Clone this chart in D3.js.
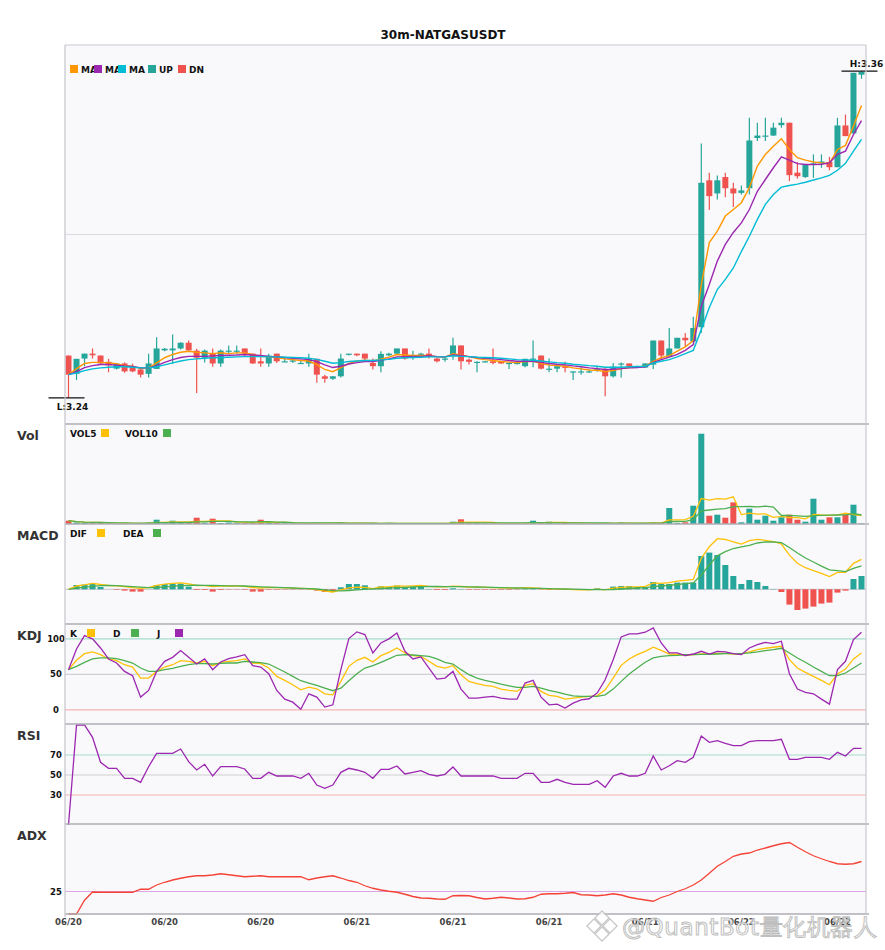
<!DOCTYPE html>
<html><head><meta charset="utf-8">
<script src="https://cdn.jsdelivr.net/npm/d3@7"></script>
<style>
body{margin:0;background:#fff}
svg{display:block}
text{font-family:"DejaVu Sans",sans-serif}
</style>
</head><body>
<svg id="chart" width="885" height="950"></svg>
<script>
// ---------------- DATA ----------------
const title = "30m-NATGASUSDT";
const openP = [3.2555,3.2488,3.2544,3.2562,3.2555,3.2532,3.2507,3.2526,3.2510,3.2504,
3.2488,3.2506,3.2574,3.2574,3.2581,3.2602,3.2573,3.2547,3.2562,3.2526,
3.2569,3.2570,3.2581,3.2562,3.2534,3.2526,3.2562,3.2532,3.2533,3.2525,
3.2526,3.2543,3.2479,3.2470,3.2479,3.2559,3.2562,3.2562,3.2528,3.2516,
3.2556,3.2562,3.2581,3.2550,3.2559,3.2562,3.2544,3.2540,3.2559,3.2592,
3.2540,3.2528,3.2530,3.2534,3.2532,3.2525,3.2525,3.2516,3.2540,3.2555,
3.2504,3.2507,3.2516,3.2495,3.2495,3.2495,3.2500,3.2504,3.2479,3.2523,
3.2526,3.2512,3.2511,3.2522,3.2610,3.2552,3.2581,3.2620,3.2607,3.2659,
3.3197,3.3149,3.3209,3.3167,3.3151,3.3168,3.3352,3.3359,3.3361,3.3399,
3.3408,3.3225,3.3209,3.3254,3.3259,3.3264,3.3245,3.3398,3.3369,3.3584];
const highP = [3.2555,3.2543,3.2562,3.2581,3.2555,3.2543,3.2528,3.2530,3.2525,3.2510,
3.2562,3.2622,3.2583,3.2632,3.2604,3.2610,3.2580,3.2577,3.2581,3.2577,
3.2592,3.2592,3.2581,3.2562,3.2581,3.2562,3.2562,3.2547,3.2543,3.2540,
3.2562,3.2543,3.2485,3.2479,3.2562,3.2562,3.2562,3.2562,3.2544,3.2571,
3.2565,3.2581,3.2581,3.2573,3.2565,3.2581,3.2547,3.2549,3.2620,3.2592,
3.2544,3.2534,3.2534,3.2581,3.2532,3.2530,3.2530,3.2543,3.2610,3.2555,
3.2544,3.2516,3.2532,3.2497,3.2512,3.2504,3.2515,3.2510,3.2528,3.2530,
3.2526,3.2518,3.2527,3.2610,3.2610,3.2656,3.2620,3.2638,3.2697,3.3332,
3.3225,3.3215,3.3225,3.3188,3.3178,3.3426,3.3408,3.3426,3.3408,3.3426,
3.3408,3.3264,3.3255,3.3292,3.3292,3.3283,3.3426,3.3438,3.3591,3.3597];
const lowP = [3.2400,3.2465,3.2516,3.2544,3.2522,3.2494,3.2504,3.2492,3.2494,3.2475,
3.2475,3.2506,3.2571,3.2525,3.2577,3.2571,3.2418,3.2530,3.2514,3.2514,
3.2562,3.2562,3.2552,3.2525,3.2514,3.2514,3.2528,3.2532,3.2528,3.2525,
3.2514,3.2455,3.2455,3.2465,3.2475,3.2555,3.2552,3.2532,3.2504,3.2494,
3.2552,3.2559,3.2540,3.2540,3.2555,3.2544,3.2530,3.2532,3.2540,3.2504,
3.2522,3.2494,3.2530,3.2522,3.2525,3.2506,3.2522,3.2512,3.2512,3.2504,
3.2494,3.2494,3.2494,3.2465,3.2485,3.2492,3.2496,3.2406,3.2475,3.2475,
3.2515,3.2511,3.2509,3.2506,3.2540,3.2551,3.2581,3.2589,3.2602,3.2638,
3.3088,3.3127,3.3135,3.3099,3.3145,3.3145,3.3341,3.3341,3.3359,3.3390,
3.3194,3.3203,3.3206,3.3206,3.3243,3.3234,3.3245,3.3359,3.3369,3.3569];
const closeP = [3.2485,3.2543,3.2562,3.2556,3.2526,3.2519,3.2525,3.2497,3.2497,3.2485,
3.2526,3.2581,3.2580,3.2581,3.2602,3.2574,3.2547,3.2573,3.2526,3.2573,
3.2573,3.2573,3.2562,3.2526,3.2526,3.2555,3.2534,3.2534,3.2537,3.2528,
3.2543,3.2485,3.2470,3.2479,3.2544,3.2562,3.2556,3.2544,3.2516,3.2561,
3.2562,3.2581,3.2544,3.2552,3.2562,3.2550,3.2534,3.2544,3.2592,3.2534,
3.2532,3.2532,3.2534,3.2528,3.2526,3.2528,3.2528,3.2543,3.2544,3.2507,
3.2507,3.2516,3.2510,3.2497,3.2497,3.2497,3.2505,3.2479,3.2514,3.2526,
3.2516,3.2515,3.2526,3.2610,3.2555,3.2581,3.2620,3.2611,3.2656,3.3188,
3.3139,3.3197,3.3168,3.3149,3.3160,3.3343,3.3361,3.3361,3.3390,3.3408,
3.3216,3.3212,3.3255,3.3259,3.3266,3.3245,3.3398,3.3359,3.3591,3.3594];
const maFast = [3.2485,3.2507,3.2526,3.2530,3.2530,3.2528,3.2525,3.2518,3.2516,3.2507,
3.2510,3.2528,3.2547,3.2559,3.2567,3.2571,3.2567,3.2565,3.2562,3.2565,
3.2562,3.2565,3.2565,3.2559,3.2552,3.2550,3.2548,3.2543,3.2540,3.2537,
3.2535,3.2522,3.2504,3.2496,3.2511,3.2526,3.2535,3.2538,3.2535,3.2542,
3.2549,3.2559,3.2557,3.2555,3.2555,3.2555,3.2551,3.2549,3.2562,3.2557,
3.2551,3.2544,3.2540,3.2537,3.2533,3.2531,3.2529,3.2533,3.2534,3.2526,
3.2520,3.2518,3.2516,3.2510,3.2506,3.2502,3.2501,3.2496,3.2500,3.2507,
3.2511,3.2512,3.2516,3.2534,3.2547,3.2555,3.2571,3.2587,3.2610,3.2815,
3.2969,3.3011,3.3066,3.3090,3.3115,3.3170,3.3249,3.3292,3.3322,3.3349,
3.3310,3.3280,3.3271,3.3264,3.3261,3.3259,3.3310,3.3325,3.3396,3.3471];
const maMid = [3.2485,3.2496,3.2511,3.2518,3.2522,3.2522,3.2520,3.2517,3.2515,3.2510,
3.2510,3.2518,3.2530,3.2540,3.2548,3.2552,3.2552,3.2552,3.2554,3.2555,
3.2556,3.2557,3.2559,3.2557,3.2555,3.2552,3.2550,3.2548,3.2545,3.2543,
3.2540,3.2533,3.2521,3.2511,3.2516,3.2524,3.2529,3.2533,3.2533,3.2538,
3.2543,3.2550,3.2551,3.2552,3.2552,3.2554,3.2551,3.2550,3.2557,3.2555,
3.2551,3.2548,3.2545,3.2543,3.2540,3.2537,3.2534,3.2534,3.2534,3.2530,
3.2526,3.2523,3.2521,3.2517,3.2514,3.2510,3.2507,3.2504,3.2505,3.2507,
3.2510,3.2511,3.2514,3.2530,3.2540,3.2549,3.2559,3.2574,3.2595,3.2736,
3.2815,3.2901,3.2962,3.3006,3.3041,3.3090,3.3157,3.3200,3.3243,3.3283,
3.3271,3.3258,3.3255,3.3255,3.3256,3.3261,3.3292,3.3304,3.3365,3.3416];
const maSlow = [3.2485,3.2491,3.2500,3.2506,3.2510,3.2512,3.2514,3.2514,3.2512,3.2510,
3.2510,3.2514,3.2521,3.2528,3.2535,3.2540,3.2543,3.2545,3.2547,3.2548,
3.2549,3.2550,3.2551,3.2551,3.2551,3.2550,3.2550,3.2549,3.2548,3.2547,
3.2545,3.2541,3.2534,3.2527,3.2529,3.2533,3.2535,3.2537,3.2537,3.2539,
3.2541,3.2545,3.2547,3.2548,3.2549,3.2550,3.2550,3.2550,3.2554,3.2552,
3.2551,3.2549,3.2548,3.2547,3.2545,3.2543,3.2540,3.2539,3.2538,3.2535,
3.2532,3.2529,3.2527,3.2523,3.2521,3.2518,3.2516,3.2512,3.2512,3.2512,
3.2514,3.2515,3.2516,3.2528,3.2534,3.2540,3.2550,3.2562,3.2574,3.2650,
3.2731,3.2797,3.2834,3.2876,3.2936,3.2992,3.3054,3.3109,3.3145,3.3172,
3.3178,3.3183,3.3190,3.3198,3.3206,3.3215,3.3234,3.3259,3.3304,3.3347];
const volume = [330,150,100,80,100,60,60,80,60,60,
150,430,80,330,100,100,630,120,530,100,
150,80,80,100,430,100,80,50,50,50,
80,120,80,60,150,60,60,70,60,80,
60,60,70,50,50,60,60,80,230,470,
80,80,60,70,60,60,50,60,330,100,
230,60,100,60,60,60,60,80,60,150,
60,60,80,150,150,1600,100,170,1830,9030,
830,930,630,2160,170,1530,430,830,330,670,
930,430,230,2530,430,670,670,930,1930,50];
const vol5 = [330,240,190,165,150,100,80,75,70,65,
80,170,160,210,220,210,250,260,300,300,
310,200,190,110,170,160,160,150,140,70,
60,70,75,80,100,95,90,80,80,65,
65,65,65,60,60,60,60,60,100,180,
185,190,185,150,70,65,60,60,110,120,
155,155,165,110,100,70,60,65,65,80,
80,80,80,100,100,410,410,440,770,2550,
2390,2540,2490,2720,940,1080,990,1020,660,760,
640,640,520,960,900,860,910,1090,930,850];
const vol10 = [330,240,190,165,150,130,115,105,95,90,
90,125,125,150,150,150,205,210,260,260,
260,225,220,200,235,225,180,175,125,120,
115,120,120,110,105,80,80,80,75,70,
75,60,60,60,60,60,60,60,80,120,
120,120,120,120,120,120,120,120,145,140,
110,110,115,110,110,105,100,100,80,90,
90,75,75,80,90,245,250,260,430,1320,
1400,1480,1540,1740,1740,1750,1720,1780,1690,850,
860,810,770,840,870,880,900,910,1040,900];
// MACD values in units of 0.0002
const dif = [0,3.3,4.5,6,4.8,3.8,3.4,2.6,1.6,1.0,
1.6,4.0,5.1,5.9,6.5,5.4,3.8,3.7,2.7,3.3,
3.4,3.3,3.0,1.8,1.3,2.0,1.7,1.5,1.2,0.9,
0.6,-0.3,-1.9,-2.7,-0.6,1.5,2.1,2.0,0.7,2.3,
2.4,3.5,3.2,3.5,3.8,2.9,2.5,2.4,3.1,2.8,
2.3,2.1,1.9,1.7,1.5,1.3,1.2,1.6,1.5,0.8,
0.4,0.4,0.1,-0.3,-0.5,-0.6,0.1,-0.6,1.2,2.0,
2.5,2.5,2.9,6.3,6.0,6.7,8.2,9.0,9.8,31,
42.6,50.6,49.8,47.5,45.2,48.7,50,49,47.7,45.3,
34.2,26,21.6,18.6,16,12.8,17,17,26,30];
const dea = [0,1.2,2.2,3,3.6,3.8,3.6,3.2,2.7,2.1,
1.6,1.8,2.4,3.0,3.6,4.0,4.1,4.0,3.8,3.6,
3.5,3.4,3.3,2.9,2.5,2.2,1.9,1.6,1.3,1.0,
0.7,0.3,-0.5,-1.3,-1.6,-1.2,-0.6,0,0.4,0.8,
1.2,1.6,2.0,2.3,2.6,2.8,2.8,2.7,2.6,2.6,
2.5,2.3,2.1,1.9,1.7,1.5,1.3,1.1,1.0,0.9,
0.7,0.5,0.3,0.1,-0.1,-0.3,-0.4,-0.4,-0.2,0.3,
0.8,1.3,1.7,2.6,3.3,4.0,4.8,5.6,6.4,14.3,
24.3,33.5,37.7,40.8,42.5,44,46.3,47.3,47.5,46.7,
41.8,36.3,31.3,27.3,23.2,19.4,18.6,17.7,20.9,23.4];
const macdHist = [0,4.3,4.7,6,2.3,0,-0.5,-1.3,-2.3,-2.3,
0,4.3,5.3,5.7,5.7,2.7,-0.7,-0.7,-2.3,-0.7,
-0.3,-0.3,-0.5,-2.3,-2.3,-0.5,-0.5,-0.3,-0.3,-0.3,
-0.3,-1.3,-2.7,-2.7,2,5.3,5.3,4,0.5,3,
2.3,3.7,2.3,2.3,2.3,0.3,-0.7,-0.7,1,0.3,
-0.5,-0.5,-0.5,-0.5,-0.5,-0.5,-0.3,1,1,-0.3,
-0.7,-0.3,-0.5,-0.7,-0.7,-0.5,1,-0.3,2.7,3.3,
3.3,2.3,2.3,7.3,5.3,5.3,6.7,6.7,6.7,33.3,
36.7,34.3,24.3,13.3,5.3,9.3,7.3,3.3,0.3,-2.7,
-15.3,-20.7,-19.3,-17.3,-14.3,-13.3,-3.3,-1.3,10.3,13.3];
const kVal = [56.6,69.8,79.2,81.6,77.8,71.7,69.3,63.6,60.3,44.8,
44.8,54.2,60.3,63.6,69.3,68.4,66,68.4,62.2,67,
68.4,69.3,71.7,66,65,58.9,47.1,41.5,35.4,28.3,
32.1,29.7,22.6,21.2,40.1,61.3,69.8,74,67.4,76.4,
81.1,87.2,80.2,76.4,75.4,68.4,61.3,58.9,62.2,49.5,
40.1,36.8,34.4,33,29.2,27.3,25.9,34.4,36.8,25.9,
20.3,18.9,15.1,16.5,17.9,18.9,19.8,28.3,44.8,62.7,
71.7,77.8,82.5,88.2,83.9,78.7,78.3,76.4,77.8,78.7,
78.7,79.7,79.7,78.7,78.7,81.6,84.9,86.8,88.2,89.6,
70.7,58.9,52.8,47.1,41.5,35.4,50.4,57.5,71.7,80.2];
const dVal = [56.6,61.3,67,71.7,73.1,73.1,72.1,69.3,66,58.9,
54.2,54.2,56.6,58.5,61.3,63.6,65,65,64.6,65.5,
66,66,68.4,67.4,66.5,64.6,58.9,53.3,47.1,41,
37.7,34.4,30.6,26.9,30.6,41,50.9,58.9,62.2,67,
71.7,76.9,77.8,77.3,76.4,75.4,71.7,66.9,64.6,56.6,
49.5,44.8,41.5,39.1,36.3,33.9,31.6,31.6,33,30.6,
27.3,25,22.2,19.8,18.9,18.9,18.9,21.2,29.2,40.1,
50.4,58.9,67,73.1,75.4,76.4,76.9,77.8,77.8,78.3,
78.3,78.7,79.2,79.2,79.2,80.2,81.6,83.5,84.9,86.8,
80.2,73.1,67,60.3,54.2,48.1,48.1,51.9,58.9,66];
const jVal = [56.6,85.8,104.7,100,87.2,71.7,66,54.2,48.1,17.9,
27.3,54.2,68.4,74,83.5,74,64.6,71.7,56.6,67.4,
72.1,74.5,77.8,62.2,60.3,50.9,27.3,15.1,10.8,0.9,
22.6,17.9,3.8,7.1,56.6,100.4,109.9,106.1,80.2,94.3,
100,108.4,82.5,71.7,74.5,58.9,43.4,44.8,54.2,29.2,
16.5,16.5,17.9,18.9,16.5,15.1,15.1,37.7,41.5,17.9,
7.1,8,2.4,9.4,14.1,15.6,23.6,42.4,70.7,102.8,
107,107,109.4,115.5,94.3,80.2,80.2,76.4,78.7,82.5,
78.7,82.5,81.6,79.2,77.8,87.2,91.9,95.2,93.4,96.7,
50.9,29.2,24.5,22.6,15.1,8,56.6,68.4,99,109.4];
const rsi = [0,100,100,87.7,62.7,56.7,56.7,46.7,46.7,42.7,
58.3,71.7,71.7,71.7,76,63.3,55,60.7,49,58.3,
58.3,58.3,56,46.7,46.7,52.7,49,49,49,46.7,
51.7,40,36.7,40,52.7,56.7,55,52.7,46.7,55.7,
55.7,59,51,52.7,54.3,50.7,49,50.7,58,49,
49,49,49,49,46.7,46.7,46.7,51.7,51.7,42.7,
42.7,45.7,42.7,40.7,40.7,40.7,44.3,37.7,49,51.7,
49,49,51.7,69,55,59.3,64.3,62.7,67.7,89,
82.7,84.3,81.7,79.3,79.3,83.3,84.3,84.3,84.3,85.7,
65.7,65.7,67.7,67.7,67.7,65.7,72.7,69,76.7,76.7];
const adx = [16,16,21.5,24.8,24.7,24.7,24.7,24.7,24.7,25.9,
25.9,27.6,28.7,29.6,30.3,30.9,31.3,31.3,31.6,32.1,
31.7,31.3,30.9,31.1,31.3,30.9,30.9,30.9,30.9,30.9,
29.7,30.4,30.9,31.3,30.4,29.4,28.7,27.3,26.3,25.6,
25.1,24.7,23.9,23,22.4,22.3,22,21.9,23.3,23.4,
23.3,22.6,22,22.3,22.7,22.4,22,22.1,22.7,23.9,
24.1,24.1,24.3,24.6,23.7,23.6,23.3,23.6,24.1,23.6,
22.7,22.1,21.6,21.1,22.6,23.6,25,26.1,27.6,29.6,
32.3,35.1,37,39.1,40,40.4,41.6,42.4,43.3,44.1,
44.6,42.7,40.9,39.3,38.1,37,36.1,35.9,36.1,37];
const tickIdx = [0,12,24,36,48,60,72,84,96];
const tickLabels = ["06/20","06/20","06/20","06/21","06/21","06/21","06/21","06/22","06/22"];
const maLegend = ["MA","MA","MA","UP","DN"];
const kdjLevels = [100,50,0], rsiLevels = [70,50,30], adxLevels = [25];

// ---------------- DRAWING ----------------
const UP="#26a69a", DN="#ef5350";
const C_MA=["#ff9800","#9c27b0","#00bcd4"], YEL="#ffc107", GRN="#4caf50", PUR="#9c27b0";
const svg=d3.select("#chart");
const L=65, R=866, N=closeP.length;
const P={main:[45,424],vol:[424,524],macd:[524,624],kdj:[624,724],rsi:[724,824],adx:[824,914]};
const x=d3.scaleBand().domain(d3.range(N)).range([64.5,865.5]);
const cx=i=>x(i)+x.bandwidth()/2;
const bw=6;

svg.append("rect").attr("x",L).attr("y",P.main[0]).attr("width",R-L).attr("height",P.adx[1]-P.main[0]).attr("fill","#f9f9fb");

svg.append("text").attr("x",443).attr("y",39).attr("text-anchor","middle")
  .attr("font-size",12).attr("font-weight","bold").attr("fill","#111").text(title);

// main scale
const lo=d3.min(lowP), hi=d3.max(highP), rg=hi-lo;
const yM=d3.scaleLinear().domain([lo-rg*0.08,hi+rg*0.08]).range([P.main[1],P.main[0]]);
svg.append("line").attr("x1",L).attr("x2",R).attr("y1",(P.main[0]+P.main[1])/2).attr("y2",(P.main[0]+P.main[1])/2)
  .attr("stroke","#dcdce0").attr("stroke-width",1);

const gC=svg.append("g");
d3.range(N).forEach(i=>{
  const up=closeP[i]>=openP[i], col=up?UP:DN;
  gC.append("line").attr("x1",cx(i)).attr("x2",cx(i)).attr("y1",yM(highP[i])).attr("y2",yM(lowP[i]))
    .attr("stroke",col).attr("stroke-width",1.2);
  const t=yM(Math.max(openP[i],closeP[i])), b=yM(Math.min(openP[i],closeP[i]));
  gC.append("rect").attr("x",cx(i)-bw/2).attr("width",bw).attr("y",t).attr("height",Math.max(1.2,b-t)).attr("fill",col);
});
[maFast,maMid,maSlow].forEach((s,k)=>{
  svg.append("path").datum(s).attr("fill","none").attr("stroke",C_MA[k]).attr("stroke-width",1.4)
    .attr("d",d3.line().x((d,i)=>cx(i)).y(d=>yM(d)));
});
// H / L markers
const iH=d3.maxIndex(highP), iL=d3.minIndex(lowP);
svg.append("line").attr("x1",cx(iH)-20).attr("x2",cx(iH)+16).attr("y1",yM(hi)).attr("y2",yM(hi)).attr("stroke","#111").attr("stroke-width",1.2);
svg.append("text").attr("x",cx(iH)+5).attr("y",yM(hi)-4).attr("text-anchor","middle").attr("font-size",9).attr("font-weight","bold").attr("fill","#111").text("H:"+hi.toFixed(2));
svg.append("line").attr("x1",cx(iL)-20).attr("x2",cx(iL)+16).attr("y1",yM(lo)).attr("y2",yM(lo)).attr("stroke","#111").attr("stroke-width",1.2);
svg.append("text").attr("x",cx(iL)+4).attr("y",yM(lo)+12).attr("text-anchor","middle").attr("font-size",9).attr("font-weight","bold").attr("fill","#111").text("L:"+lo.toFixed(2));

// main legend
const legX=[70,94,118,148,178], legC=[C_MA[0],C_MA[1],C_MA[2],UP,DN];
maLegend.forEach((t,k)=>{
  svg.append("text").attr("x",legX[k]+11).attr("y",73).attr("font-size",9).attr("font-weight","bold").attr("fill","#111").text(t);
});
maLegend.forEach((t,k)=>{
  svg.append("rect").attr("x",legX[k]).attr("y",65).attr("width",8).attr("height",8).attr("fill",legC[k]);
});

function legend(items, y){
  items.forEach(([t,tx,sx,col])=>{
    svg.append("text").attr("x",tx).attr("y",y).attr("font-size",9).attr("font-weight","bold").attr("fill","#111").text(t);
    svg.append("rect").attr("x",sx).attr("y",y-8).attr("width",8).attr("height",8).attr("fill",col);
  });
}
function panelLabel(t,y){
  svg.append("text").attr("x",17).attr("y",y).attr("font-size",12.5).attr("font-weight","bold").attr("fill","#333").text(t);
}
function level(y,v,col,lab){
  svg.append("line").attr("x1",L).attr("x2",R).attr("y1",y(v)).attr("y2",y(v)).attr("stroke",col).attr("stroke-width",1.2);
  if(lab) svg.append("text").attr("x",56).attr("y",y(v)+3).attr("text-anchor","middle").attr("font-size",8.5).attr("font-weight","bold").attr("fill","#111").text(v);
}
const lineGen=y=>d3.line().defined(d=>d!=null).x((d,i)=>cx(i)).y(d=>y(d));

// Volume
const yV=d3.scaleLinear().domain([0,10000]).range([P.vol[1],P.vol[0]]);
d3.range(N).forEach(i=>{
  const col=closeP[i]>=openP[i]?UP:DN;
  svg.append("rect").attr("x",cx(i)-bw/2).attr("width",bw).attr("y",yV(volume[i])).attr("height",yV(0)-yV(volume[i])).attr("fill",col);
});
svg.append("path").datum(vol5).attr("fill","none").attr("stroke",YEL).attr("stroke-width",1.3).attr("d",lineGen(yV));
svg.append("path").datum(vol10).attr("fill","none").attr("stroke",GRN).attr("stroke-width",1.3).attr("d",lineGen(yV));
panelLabel("Vol",440);
legend([["VOL5",70,101,YEL],["VOL10",125,163,GRN]],437);

// MACD
const yMD=d3.scaleLinear().domain([-34.7,65.3]).range([P.macd[1],P.macd[0]]);
svg.append("line").attr("x1",L).attr("x2",R).attr("y1",yMD(0)).attr("y2",yMD(0)).attr("stroke","#d0d0d4").attr("stroke-width",1.2);
d3.range(N).forEach(i=>{
  const v=macdHist[i], col=v>=0?UP:DN;
  svg.append("rect").attr("x",cx(i)-bw/2).attr("width",bw).attr("y",yMD(Math.max(0,v))).attr("height",Math.abs(yMD(v)-yMD(0))).attr("fill",col);
});
svg.append("path").datum(dif).attr("fill","none").attr("stroke",YEL).attr("stroke-width",1.3).attr("d",lineGen(yMD));
svg.append("path").datum(dea).attr("fill","none").attr("stroke",GRN).attr("stroke-width",1.3).attr("d",lineGen(yMD));
panelLabel("MACD",540);
legend([["DIF",70,97,YEL],["DEA",123,153,GRN]],537);

// KDJ
const yK=d3.scaleLinear().domain([-20,121]).range([P.kdj[1],P.kdj[0]]);
level(yK,100,"#a6dccb",true); level(yK,50,"#cfcfd4",true); level(yK,0,"#f6b3b3",true);
[[kVal,YEL],[dVal,GRN],[jVal,PUR]].forEach(([s,c])=>{
  svg.append("path").datum(s).attr("fill","none").attr("stroke",c).attr("stroke-width",1.3).attr("d",lineGen(yK));
});
panelLabel("KDJ",640);
legend([["K",70,87,YEL],["D",113,131,GRN],["J",157,175,PUR]],637);

// RSI
const yR=d3.scaleLinear().domain([0,100]).range([P.rsi[1]+1,P.rsi[0]+1]);
level(yR,70,"#a6dccb",true); level(yR,50,"#cfcfd4",true); level(yR,30,"#f6b3b3",true);
svg.append("path").datum(rsi).attr("fill","none").attr("stroke",PUR).attr("stroke-width",1.3).attr("d",lineGen(yR));
panelLabel("RSI",740);

// ADX
const yA=d3.scaleLinear().domain([16,52]).range([P.adx[1],P.adx[0]]);
level(yA,25,"#dca6e6",true);
svg.append("path").datum(adx).attr("fill","none").attr("stroke","#f44336").attr("stroke-width",1.3).attr("d",lineGen(yA));
panelLabel("ADX",840);

// frames / separators
svg.append("line").attr("x1",L).attr("x2",R).attr("y1",P.main[0]).attr("y2",P.main[0]).attr("stroke","#c9c9d1").attr("stroke-width",1.2);
[P.vol[0],P.macd[0],P.kdj[0],P.rsi[0],P.adx[0],P.adx[1]].forEach(y=>{
  svg.append("line").attr("x1",L).attr("x2",R+3).attr("y1",y).attr("y2",y).attr("stroke","#acacb4").attr("stroke-width",1.4);
});
svg.append("line").attr("x1",L).attr("x2",L).attr("y1",P.main[0]).attr("y2",P.adx[1]+3).attr("stroke","#c4c4cc").attr("stroke-width",1.2);
svg.append("line").attr("x1",R).attr("x2",R).attr("y1",P.main[0]).attr("y2",P.adx[1]).attr("stroke","#c9c9d1").attr("stroke-width",1.2);

// x labels
tickIdx.forEach((ti,k)=>{
  svg.append("text").attr("x",cx(ti)).attr("y",925).attr("text-anchor","middle").attr("font-size",8.5)
    .attr("font-weight","bold").attr("fill","#444").text(tickLabels[k]);
});

// watermark
const wm=svg.append("g").attr("opacity",0.85);
[[602,918],[594,926],[610,926],[602,934]].forEach(([a,b])=>{
  wm.append("rect").attr("x",a-5).attr("y",b-5).attr("width",10).attr("height",10)
    .attr("transform",`rotate(45 ${a} ${b})`).attr("fill","#fff").attr("stroke","#bdbdbd").attr("stroke-width",1.3);
});
wm.append("text").attr("x",622).attr("y",935).attr("font-size",23).attr("textLength",255).attr("lengthAdjust","spacing")
  .attr("font-family","'Noto Sans CJK SC','Noto Sans',sans-serif").attr("fill","#fff").attr("stroke","#b5b5b5").attr("stroke-width",1)
  .text("@QuantBot量化机器人");
</script>
</body></html>
